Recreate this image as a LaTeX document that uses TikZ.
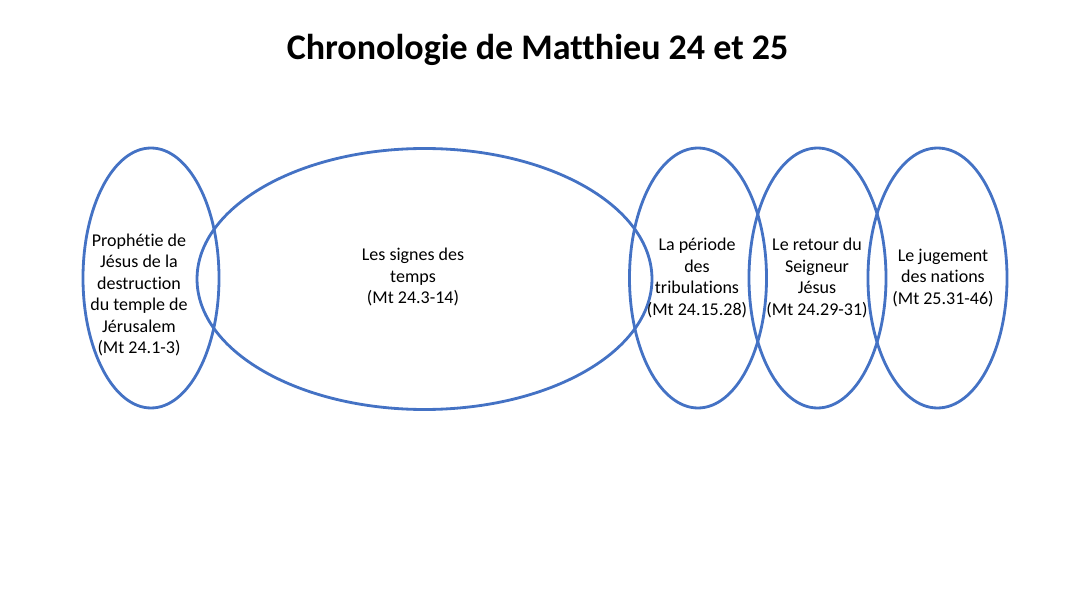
\documentclass[tikz,border=0pt]{standalone}
\usepackage{fontspec}
\setmainfont[Ligatures={NoCommon,NoRequired,NoContextual}]{Carlito}
\usetikzlibrary{shapes.geometric}
\definecolor{ppblue}{HTML}{4472C4}
\begin{document}
\begin{tikzpicture}[x=0.8889pt,y=-0.8889pt,
  oval/.style={ellipse, draw=ppblue, line width=2.5pt, inner sep=0pt},
  lbl/.style={align=center, font=\fontsize{16}{19.2}\selectfont, inner sep=0pt},
  ttl/.style={font=\fontsize{32}{38}\selectfont\bfseries, inner sep=0pt}]
\useasboundingbox (0,0) rectangle (1080,608);
\node[ttl, anchor=base] (title) at (537.5,60) {Chronologie de Matthieu 24 et 25};
\node[oval, minimum width=120.9pt, minimum height=231.1pt] (e1) at (151,278) {};
\node[oval, minimum width=404.4pt, minimum height=232pt] (e2) at (424.5,279) {};
\node[oval, minimum width=121.8pt, minimum height=231.1pt] (e3) at (698,278) {};
\node[oval, minimum width=121.8pt, minimum height=231.1pt] (e4) at (817.5,278) {};
\node[oval, minimum width=123.6pt, minimum height=231.1pt] (e5) at (937.5,278) {};
\node[lbl] (t1) at (139,295) {Prophétie de\\Jésus de la\\destruction\\du temple de\\Jérusalem\\(Mt 24.1-3)};
\node[lbl] (t2) at (413,277) {Les signes des\\temps\\(Mt 24.3-14)};
\node[lbl] (t3) at (697,278) {La période\\des\\tribulations\\(Mt 24.15.28)};
\node[lbl] (t4) at (817,278) {Le retour du\\Seigneur\\Jésus\\(Mt 24.29-31)};
\node[lbl] (t5) at (943,278) {Le jugement\\des nations\\(Mt 25.31-46)};
\end{tikzpicture}
\end{document}
